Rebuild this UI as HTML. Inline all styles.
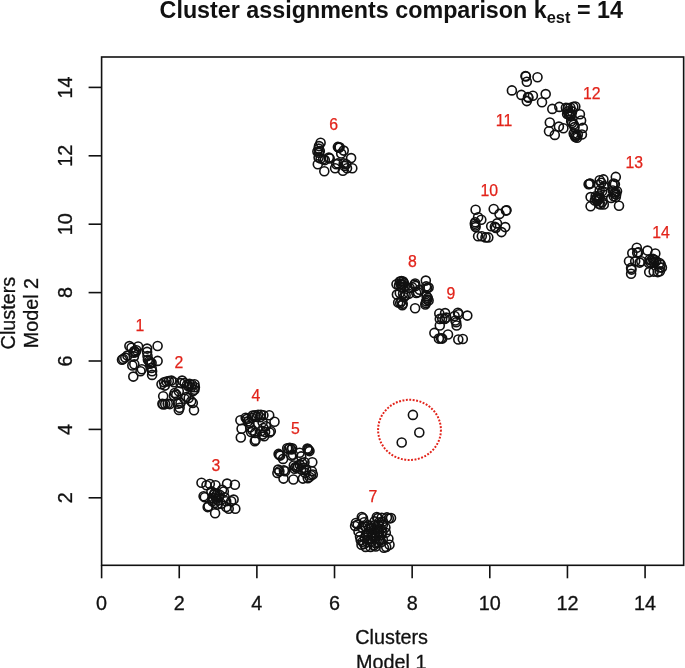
<!DOCTYPE html>
<html><head><meta charset="utf-8"><title>Cluster assignments comparison</title>
<style>
html,body{margin:0;padding:0;background:#fff;}
svg{display:block}
text{font-family:"Liberation Sans",Arial,Helvetica,sans-serif;fill:#111}
.ax{font-size:19.8px;stroke:#111;stroke-width:0.3px}
.red{font-size:15.8px;fill:#e2231a;stroke:#e2231a;stroke-width:0.25px}
.pt{fill:none;stroke:#111;stroke-width:1.6}
.ln{stroke:#111;stroke-width:1.6;fill:none}
</style></head><body>
<svg width="685" height="668" viewBox="0 0 685 668">
<rect width="685" height="668" fill="#fff"/>
<text x="159.6" y="17.5" style="font-weight:bold;font-size:23.3px">Cluster assignments comparison k<tspan dy="5" style="font-size:16.4px">est</tspan><tspan dy="-5"> = 14</tspan></text>
<rect class="ln" x="101.6" y="57.0" width="582.05" height="508.30"/>
<line class="ln" x1="101.60" y1="565.3" x2="101.60" y2="578.30"/><text class="ax" text-anchor="middle" x="101.60" y="609.8">0</text>
<line class="ln" x1="179.24" y1="565.3" x2="179.24" y2="578.30"/><text class="ax" text-anchor="middle" x="179.24" y="609.8">2</text>
<line class="ln" x1="256.88" y1="565.3" x2="256.88" y2="578.30"/><text class="ax" text-anchor="middle" x="256.88" y="609.8">4</text>
<line class="ln" x1="334.52" y1="565.3" x2="334.52" y2="578.30"/><text class="ax" text-anchor="middle" x="334.52" y="609.8">6</text>
<line class="ln" x1="412.16" y1="565.3" x2="412.16" y2="578.30"/><text class="ax" text-anchor="middle" x="412.16" y="609.8">8</text>
<line class="ln" x1="489.80" y1="565.3" x2="489.80" y2="578.30"/><text class="ax" text-anchor="middle" x="489.80" y="609.8">10</text>
<line class="ln" x1="567.44" y1="565.3" x2="567.44" y2="578.30"/><text class="ax" text-anchor="middle" x="567.44" y="609.8">12</text>
<line class="ln" x1="645.08" y1="565.3" x2="645.08" y2="578.30"/><text class="ax" text-anchor="middle" x="645.08" y="609.8">14</text>
<line class="ln" x1="101.6" y1="497.80" x2="88.60" y2="497.80"/><text class="ax" text-anchor="middle" transform="translate(72.2 497.80) rotate(-90)">2</text>
<line class="ln" x1="101.6" y1="429.40" x2="88.60" y2="429.40"/><text class="ax" text-anchor="middle" transform="translate(72.2 429.40) rotate(-90)">4</text>
<line class="ln" x1="101.6" y1="361.00" x2="88.60" y2="361.00"/><text class="ax" text-anchor="middle" transform="translate(72.2 361.00) rotate(-90)">6</text>
<line class="ln" x1="101.6" y1="292.60" x2="88.60" y2="292.60"/><text class="ax" text-anchor="middle" transform="translate(72.2 292.60) rotate(-90)">8</text>
<line class="ln" x1="101.6" y1="224.20" x2="88.60" y2="224.20"/><text class="ax" text-anchor="middle" transform="translate(72.2 224.20) rotate(-90)">10</text>
<line class="ln" x1="101.6" y1="155.80" x2="88.60" y2="155.80"/><text class="ax" text-anchor="middle" transform="translate(72.2 155.80) rotate(-90)">12</text>
<line class="ln" x1="101.6" y1="87.40" x2="88.60" y2="87.40"/><text class="ax" text-anchor="middle" transform="translate(72.2 87.40) rotate(-90)">14</text>
<text class="ax" text-anchor="middle" x="391.6" y="644.3">Clusters</text>
<text class="ax" text-anchor="middle" x="391.3" y="668.6">Model 1</text>
<text class="ax" text-anchor="middle" transform="translate(15.4 313.1) rotate(-90)">Clusters</text>
<text class="ax" text-anchor="middle" transform="translate(37.5 313.1) rotate(-90)">Model 2</text>
<text class="red" text-anchor="middle" x="139.8" y="331.1">1</text>
<text class="red" text-anchor="middle" x="179" y="367.8">2</text>
<text class="red" text-anchor="middle" x="216" y="470.8">3</text>
<text class="red" text-anchor="middle" x="256" y="401.3">4</text>
<text class="red" text-anchor="middle" x="295.5" y="434.3">5</text>
<text class="red" text-anchor="middle" x="333.6" y="130.0">6</text>
<text class="red" text-anchor="middle" x="373" y="502.3">7</text>
<text class="red" text-anchor="middle" x="412.5" y="266.6">8</text>
<text class="red" text-anchor="middle" x="451" y="299.3">9</text>
<text class="red" text-anchor="middle" x="489.2" y="195.9">10</text>
<text class="red" text-anchor="middle" x="504" y="126.0">11</text>
<text class="red" text-anchor="middle" x="591.8" y="99.3">12</text>
<text class="red" text-anchor="middle" x="634.3" y="167.7">13</text>
<text class="red" text-anchor="middle" x="661" y="238.3">14</text>
<ellipse cx="409.5" cy="429.9" rx="31.4" ry="30.1" fill="none" stroke="#e2231a" stroke-width="2" stroke-dasharray="1.9 1.54"/>
<g class="pt"><circle cx="157.6" cy="346.0" r="4.5"/><circle cx="157.6" cy="360.9" r="4.5"/><circle cx="133.3" cy="376.6" r="4.5"/><circle cx="152.1" cy="374.9" r="4.5"/><circle cx="152.1" cy="371.2" r="4.5"/><circle cx="151.6" cy="367.9" r="4.5"/><circle cx="140.5" cy="371.2" r="4.5"/><circle cx="141.8" cy="369.2" r="4.5"/><circle cx="123.2" cy="358.9" r="4.5"/><circle cx="125.3" cy="357.6" r="4.5"/><circle cx="122.0" cy="359.7" r="4.5"/><circle cx="129.4" cy="346.1" r="4.5"/><circle cx="131.5" cy="347.8" r="4.5"/><circle cx="138.1" cy="346.5" r="4.5"/><circle cx="147.1" cy="348.6" r="4.5"/><circle cx="147.1" cy="351.9" r="4.5"/><circle cx="134.3" cy="351.1" r="4.5"/><circle cx="135.6" cy="352.3" r="4.5"/><circle cx="133.5" cy="352.7" r="4.5"/><circle cx="136.4" cy="350.2" r="4.5"/><circle cx="150.4" cy="362.2" r="4.5"/><circle cx="149.2" cy="361.3" r="4.5"/><circle cx="151.6" cy="363.0" r="4.5"/><circle cx="150.0" cy="363.8" r="4.5"/><circle cx="132.3" cy="365.5" r="4.5"/><circle cx="134.3" cy="364.2" r="4.5"/><circle cx="147.5" cy="356.0" r="4.5"/><circle cx="147.9" cy="359.7" r="4.5"/><circle cx="127.4" cy="355.6" r="4.5"/><circle cx="133.9" cy="356.4" r="4.5"/></g>
<g class="pt"><circle cx="194.0" cy="410.3" r="4.5"/><circle cx="178.8" cy="409.9" r="4.5"/><circle cx="179.6" cy="407.8" r="4.5"/><circle cx="163.2" cy="404.5" r="4.5"/><circle cx="165.2" cy="404.1" r="4.5"/><circle cx="167.7" cy="403.7" r="4.5"/><circle cx="169.8" cy="404.1" r="4.5"/><circle cx="162.4" cy="403.7" r="4.5"/><circle cx="163.2" cy="396.3" r="4.5"/><circle cx="161.5" cy="384.3" r="4.5"/><circle cx="164.0" cy="382.3" r="4.5"/><circle cx="166.5" cy="381.5" r="4.5"/><circle cx="168.9" cy="381.1" r="4.5"/><circle cx="171.4" cy="380.6" r="4.5"/><circle cx="173.9" cy="382.3" r="4.5"/><circle cx="164.8" cy="385.6" r="4.5"/><circle cx="182.1" cy="380.6" r="4.5"/><circle cx="180.5" cy="383.1" r="4.5"/><circle cx="184.6" cy="383.1" r="4.5"/><circle cx="187.1" cy="384.8" r="4.5"/><circle cx="189.5" cy="383.9" r="4.5"/><circle cx="192.0" cy="384.8" r="4.5"/><circle cx="194.5" cy="384.3" r="4.5"/><circle cx="188.7" cy="386.4" r="4.5"/><circle cx="191.2" cy="387.2" r="4.5"/><circle cx="194.9" cy="387.2" r="4.5"/><circle cx="174.7" cy="393.0" r="4.5"/><circle cx="176.3" cy="394.6" r="4.5"/><circle cx="173.9" cy="395.5" r="4.5"/><circle cx="178.8" cy="391.3" r="4.5"/><circle cx="186.2" cy="397.1" r="4.5"/><circle cx="188.7" cy="397.9" r="4.5"/><circle cx="184.6" cy="398.8" r="4.5"/><circle cx="191.2" cy="401.2" r="4.5"/><circle cx="192.8" cy="402.9" r="4.5"/><circle cx="194.5" cy="389.7" r="4.5"/><circle cx="192.8" cy="391.3" r="4.5"/><circle cx="180.5" cy="402.9" r="4.5"/><circle cx="178.0" cy="403.7" r="4.5"/></g>
<g class="pt"><circle cx="201.5" cy="482.8" r="4.5"/><circle cx="206.5" cy="485.2" r="4.5"/><circle cx="209.8" cy="484.0" r="4.5"/><circle cx="215.5" cy="485.2" r="4.5"/><circle cx="227.1" cy="483.6" r="4.5"/><circle cx="234.9" cy="484.8" r="4.5"/><circle cx="204.8" cy="497.2" r="4.5"/><circle cx="203.6" cy="496.3" r="4.5"/><circle cx="215.1" cy="513.2" r="4.5"/><circle cx="208.5" cy="506.2" r="4.5"/><circle cx="207.7" cy="507.1" r="4.5"/><circle cx="233.6" cy="499.6" r="4.5"/><circle cx="231.2" cy="501.3" r="4.5"/><circle cx="235.3" cy="508.7" r="4.5"/><circle cx="228.7" cy="508.7" r="4.5"/><circle cx="226.2" cy="507.1" r="4.5"/><circle cx="213.9" cy="494.7" r="4.5"/><circle cx="215.5" cy="496.3" r="4.5"/><circle cx="217.2" cy="493.9" r="4.5"/><circle cx="213.1" cy="498.0" r="4.5"/><circle cx="216.3" cy="498.8" r="4.5"/><circle cx="218.8" cy="497.2" r="4.5"/><circle cx="214.7" cy="493.1" r="4.5"/><circle cx="218.0" cy="500.5" r="4.5"/><circle cx="212.2" cy="501.3" r="4.5"/><circle cx="219.6" cy="494.7" r="4.5"/><circle cx="222.1" cy="489.8" r="4.5"/><circle cx="223.8" cy="491.4" r="4.5"/><circle cx="224.6" cy="497.2" r="4.5"/><circle cx="226.2" cy="501.3" r="4.5"/><circle cx="217.2" cy="504.6" r="4.5"/><circle cx="221.3" cy="503.8" r="4.5"/><circle cx="211.4" cy="491.4" r="4.5"/><circle cx="214.7" cy="502.9" r="4.5"/></g>
<g class="pt"><circle cx="240.4" cy="420.2" r="4.5"/><circle cx="241.6" cy="428.8" r="4.5"/><circle cx="240.8" cy="437.5" r="4.5"/><circle cx="245.7" cy="417.7" r="4.5"/><circle cx="246.9" cy="418.9" r="4.5"/><circle cx="252.7" cy="415.6" r="4.5"/><circle cx="255.2" cy="415.2" r="4.5"/><circle cx="258.1" cy="414.8" r="4.5"/><circle cx="260.9" cy="414.8" r="4.5"/><circle cx="263.4" cy="415.2" r="4.5"/><circle cx="269.2" cy="415.2" r="4.5"/><circle cx="251.9" cy="417.7" r="4.5"/><circle cx="256.8" cy="416.9" r="4.5"/><circle cx="260.1" cy="417.3" r="4.5"/><circle cx="274.5" cy="421.8" r="4.5"/><circle cx="270.8" cy="431.3" r="4.5"/><circle cx="269.6" cy="432.5" r="4.5"/><circle cx="254.8" cy="441.2" r="4.5"/><circle cx="255.6" cy="439.9" r="4.5"/><circle cx="264.2" cy="436.2" r="4.5"/><circle cx="262.6" cy="434.6" r="4.5"/><circle cx="250.2" cy="427.2" r="4.5"/><circle cx="251.1" cy="432.1" r="4.5"/><circle cx="252.7" cy="430.5" r="4.5"/><circle cx="255.2" cy="432.9" r="4.5"/><circle cx="263.4" cy="428.0" r="4.5"/><circle cx="265.9" cy="426.3" r="4.5"/><circle cx="260.9" cy="431.3" r="4.5"/><circle cx="265.1" cy="432.1" r="4.5"/><circle cx="249.4" cy="423.1" r="4.5"/><circle cx="262.6" cy="422.2" r="4.5"/><circle cx="247.8" cy="421.4" r="4.5"/></g>
<g class="pt"><circle cx="279.4" cy="454.8" r="4.5"/><circle cx="278.6" cy="453.9" r="4.5"/><circle cx="280.2" cy="455.6" r="4.5"/><circle cx="283.1" cy="458.9" r="4.5"/><circle cx="287.2" cy="448.2" r="4.5"/><circle cx="289.7" cy="447.8" r="4.5"/><circle cx="292.2" cy="448.2" r="4.5"/><circle cx="288.5" cy="449.0" r="4.5"/><circle cx="291.3" cy="449.4" r="4.5"/><circle cx="308.2" cy="449.4" r="4.5"/><circle cx="308.6" cy="450.2" r="4.5"/><circle cx="307.4" cy="448.6" r="4.5"/><circle cx="309.5" cy="451.1" r="4.5"/><circle cx="299.6" cy="452.7" r="4.5"/><circle cx="301.2" cy="456.4" r="4.5"/><circle cx="291.3" cy="455.6" r="4.5"/><circle cx="293.0" cy="454.8" r="4.5"/><circle cx="312.3" cy="462.2" r="4.5"/><circle cx="311.9" cy="471.2" r="4.5"/><circle cx="311.1" cy="475.3" r="4.5"/><circle cx="312.8" cy="474.5" r="4.5"/><circle cx="283.5" cy="478.6" r="4.5"/><circle cx="293.4" cy="479.5" r="4.5"/><circle cx="302.9" cy="478.6" r="4.5"/><circle cx="307.8" cy="478.2" r="4.5"/><circle cx="309.5" cy="477.0" r="4.5"/><circle cx="278.2" cy="469.6" r="4.5"/><circle cx="279.4" cy="471.2" r="4.5"/><circle cx="277.4" cy="472.9" r="4.5"/><circle cx="283.9" cy="470.4" r="4.5"/><circle cx="285.2" cy="471.2" r="4.5"/><circle cx="295.5" cy="467.1" r="4.5"/><circle cx="297.1" cy="467.9" r="4.5"/><circle cx="294.6" cy="468.8" r="4.5"/><circle cx="297.9" cy="466.3" r="4.5"/><circle cx="299.6" cy="464.6" r="4.5"/><circle cx="302.1" cy="463.0" r="4.5"/><circle cx="304.5" cy="462.2" r="4.5"/><circle cx="303.7" cy="467.9" r="4.5"/><circle cx="306.2" cy="469.6" r="4.5"/><circle cx="293.8" cy="465.5" r="4.5"/><circle cx="301.2" cy="469.6" r="4.5"/><circle cx="305.3" cy="472.9" r="4.5"/></g>
<g class="pt"><circle cx="320.6" cy="142.8" r="4.5"/><circle cx="319.0" cy="146.1" r="4.5"/><circle cx="318.6" cy="148.6" r="4.5"/><circle cx="319.8" cy="151.1" r="4.5"/><circle cx="317.4" cy="151.5" r="4.5"/><circle cx="319.0" cy="152.7" r="4.5"/><circle cx="318.6" cy="157.6" r="4.5"/><circle cx="317.8" cy="164.2" r="4.5"/><circle cx="320.6" cy="158.5" r="4.5"/><circle cx="323.1" cy="159.3" r="4.5"/><circle cx="324.8" cy="160.1" r="4.5"/><circle cx="328.9" cy="157.6" r="4.5"/><circle cx="329.7" cy="158.5" r="4.5"/><circle cx="324.3" cy="171.2" r="4.5"/><circle cx="335.1" cy="168.3" r="4.5"/><circle cx="336.3" cy="164.2" r="4.5"/><circle cx="337.9" cy="163.4" r="4.5"/><circle cx="337.9" cy="146.9" r="4.5"/><circle cx="338.8" cy="147.8" r="4.5"/><circle cx="339.6" cy="147.3" r="4.5"/><circle cx="343.7" cy="150.6" r="4.5"/><circle cx="341.2" cy="153.5" r="4.5"/><circle cx="351.1" cy="158.1" r="4.5"/><circle cx="352.3" cy="168.3" r="4.5"/><circle cx="347.0" cy="168.3" r="4.5"/><circle cx="342.9" cy="170.8" r="4.5"/><circle cx="343.7" cy="163.4" r="4.5"/><circle cx="346.2" cy="164.2" r="4.5"/><circle cx="344.5" cy="165.9" r="4.5"/></g>
<g class="pt"><circle cx="361.8" cy="517.0" r="4.5"/><circle cx="363.0" cy="518.3" r="4.5"/><circle cx="355.9" cy="523.0" r="4.5"/><circle cx="355.1" cy="526.0" r="4.5"/><circle cx="357.7" cy="524.6" r="4.5"/><circle cx="358.5" cy="531.6" r="4.5"/><circle cx="360.7" cy="540.2" r="4.5"/><circle cx="362.6" cy="541.7" r="4.5"/><circle cx="364.1" cy="543.9" r="4.5"/><circle cx="365.6" cy="546.9" r="4.5"/><circle cx="361.5" cy="544.7" r="4.5"/><circle cx="364.1" cy="522.2" r="4.5"/><circle cx="365.2" cy="526.7" r="4.5"/><circle cx="362.2" cy="527.5" r="4.5"/><circle cx="366.0" cy="534.9" r="4.5"/><circle cx="364.8" cy="537.9" r="4.5"/><circle cx="360.0" cy="536.4" r="4.5"/><circle cx="370.5" cy="546.9" r="4.5"/><circle cx="373.8" cy="545.4" r="4.5"/><circle cx="375.7" cy="546.5" r="4.5"/><circle cx="383.9" cy="547.7" r="4.5"/><circle cx="386.2" cy="546.9" r="4.5"/><circle cx="389.5" cy="544.7" r="4.5"/><circle cx="388.4" cy="538.7" r="4.5"/><circle cx="391.0" cy="518.1" r="4.5"/><circle cx="386.9" cy="517.4" r="4.5"/><circle cx="388.8" cy="518.5" r="4.5"/><circle cx="376.8" cy="517.0" r="4.5"/><circle cx="377.9" cy="518.1" r="4.5"/><circle cx="385.4" cy="527.5" r="4.5"/><circle cx="385.8" cy="532.7" r="4.5"/><circle cx="381.7" cy="517.7" r="4.5"/><circle cx="368.1" cy="525.4" r="4.5"/><circle cx="369.0" cy="528.7" r="4.5"/><circle cx="368.2" cy="532.3" r="4.5"/><circle cx="367.6" cy="535.6" r="4.5"/><circle cx="368.4" cy="539.6" r="4.5"/><circle cx="367.5" cy="542.1" r="4.5"/><circle cx="370.9" cy="525.8" r="4.5"/><circle cx="372.0" cy="527.9" r="4.5"/><circle cx="372.5" cy="533.0" r="4.5"/><circle cx="371.9" cy="535.8" r="4.5"/><circle cx="371.0" cy="538.2" r="4.5"/><circle cx="371.7" cy="541.7" r="4.5"/><circle cx="374.5" cy="521.4" r="4.5"/><circle cx="374.3" cy="525.2" r="4.5"/><circle cx="375.0" cy="529.3" r="4.5"/><circle cx="375.1" cy="532.4" r="4.5"/><circle cx="375.1" cy="535.9" r="4.5"/><circle cx="375.0" cy="538.7" r="4.5"/><circle cx="376.0" cy="543.4" r="4.5"/><circle cx="379.2" cy="522.2" r="4.5"/><circle cx="378.2" cy="524.8" r="4.5"/><circle cx="378.2" cy="528.0" r="4.5"/><circle cx="379.0" cy="532.0" r="4.5"/><circle cx="379.2" cy="535.4" r="4.5"/><circle cx="379.4" cy="539.7" r="4.5"/><circle cx="377.6" cy="542.0" r="4.5"/><circle cx="382.7" cy="521.8" r="4.5"/><circle cx="382.8" cy="525.1" r="4.5"/><circle cx="381.2" cy="529.0" r="4.5"/><circle cx="382.5" cy="531.8" r="4.5"/><circle cx="381.2" cy="535.3" r="4.5"/><circle cx="382.8" cy="539.5" r="4.5"/><circle cx="381.3" cy="542.0" r="4.5"/></g>
<g class="pt"><circle cx="425.8" cy="280.6" r="4.5"/><circle cx="428.6" cy="287.6" r="4.5"/><circle cx="427.0" cy="288.1" r="4.5"/><circle cx="426.2" cy="286.4" r="4.5"/><circle cx="427.0" cy="299.6" r="4.5"/><circle cx="426.2" cy="301.2" r="4.5"/><circle cx="427.8" cy="297.9" r="4.5"/><circle cx="425.8" cy="302.9" r="4.5"/><circle cx="428.6" cy="300.4" r="4.5"/><circle cx="426.6" cy="296.3" r="4.5"/><circle cx="425.3" cy="304.5" r="4.5"/><circle cx="415.1" cy="308.2" r="4.5"/><circle cx="414.6" cy="284.8" r="4.5"/><circle cx="415.1" cy="283.5" r="4.5"/><circle cx="415.5" cy="286.0" r="4.5"/><circle cx="412.2" cy="287.2" r="4.5"/><circle cx="409.7" cy="288.1" r="4.5"/><circle cx="417.9" cy="292.2" r="4.5"/><circle cx="416.3" cy="293.0" r="4.5"/><circle cx="419.6" cy="289.7" r="4.5"/><circle cx="399.8" cy="281.5" r="4.5"/><circle cx="401.5" cy="281.1" r="4.5"/><circle cx="403.1" cy="281.5" r="4.5"/><circle cx="400.6" cy="283.9" r="4.5"/><circle cx="402.3" cy="284.8" r="4.5"/><circle cx="399.0" cy="285.6" r="4.5"/><circle cx="403.9" cy="283.1" r="4.5"/><circle cx="396.5" cy="284.3" r="4.5"/><circle cx="401.5" cy="287.2" r="4.5"/><circle cx="404.8" cy="286.4" r="4.5"/><circle cx="396.9" cy="294.6" r="4.5"/><circle cx="399.8" cy="293.0" r="4.5"/><circle cx="403.1" cy="293.8" r="4.5"/><circle cx="405.6" cy="295.5" r="4.5"/><circle cx="408.9" cy="293.8" r="4.5"/><circle cx="403.9" cy="297.1" r="4.5"/><circle cx="398.2" cy="302.5" r="4.5"/><circle cx="401.5" cy="301.2" r="4.5"/><circle cx="402.7" cy="303.7" r="4.5"/><circle cx="402.3" cy="305.3" r="4.5"/><circle cx="400.2" cy="302.9" r="4.5"/></g>
<g class="pt"><circle cx="439.3" cy="313.5" r="4.5"/><circle cx="445.1" cy="313.1" r="4.5"/><circle cx="439.8" cy="318.9" r="4.5"/><circle cx="442.2" cy="318.5" r="4.5"/><circle cx="444.7" cy="318.9" r="4.5"/><circle cx="446.3" cy="317.6" r="4.5"/><circle cx="439.8" cy="325.5" r="4.5"/><circle cx="457.9" cy="312.7" r="4.5"/><circle cx="458.7" cy="314.3" r="4.5"/><circle cx="454.6" cy="316.0" r="4.5"/><circle cx="467.3" cy="315.6" r="4.5"/><circle cx="456.2" cy="322.2" r="4.5"/><circle cx="456.6" cy="325.5" r="4.5"/><circle cx="455.4" cy="320.5" r="4.5"/><circle cx="434.4" cy="332.9" r="4.5"/><circle cx="438.9" cy="338.6" r="4.5"/><circle cx="441.0" cy="338.2" r="4.5"/><circle cx="442.2" cy="338.6" r="4.5"/><circle cx="448.0" cy="334.5" r="4.5"/><circle cx="458.3" cy="339.5" r="4.5"/><circle cx="462.8" cy="339.0" r="4.5"/></g>
<g class="pt"><circle cx="475.6" cy="209.8" r="4.5"/><circle cx="478.1" cy="217.2" r="4.5"/><circle cx="481.3" cy="219.7" r="4.5"/><circle cx="475.2" cy="222.2" r="4.5"/><circle cx="474.8" cy="223.8" r="4.5"/><circle cx="475.2" cy="225.5" r="4.5"/><circle cx="475.6" cy="227.1" r="4.5"/><circle cx="478.1" cy="236.2" r="4.5"/><circle cx="481.8" cy="236.2" r="4.5"/><circle cx="485.5" cy="237.4" r="4.5"/><circle cx="488.3" cy="237.4" r="4.5"/><circle cx="493.7" cy="209.0" r="4.5"/><circle cx="499.5" cy="213.9" r="4.5"/><circle cx="506.5" cy="210.2" r="4.5"/><circle cx="506.0" cy="210.6" r="4.5"/><circle cx="491.2" cy="226.3" r="4.5"/><circle cx="494.9" cy="226.7" r="4.5"/><circle cx="497.0" cy="223.4" r="4.5"/><circle cx="495.8" cy="227.9" r="4.5"/><circle cx="505.2" cy="227.1" r="4.5"/><circle cx="501.5" cy="232.1" r="4.5"/></g>
<g class="pt"><circle cx="525.5" cy="76.0" r="4.5"/><circle cx="525.9" cy="76.4" r="4.5"/><circle cx="526.8" cy="81.8" r="4.5"/><circle cx="537.5" cy="77.2" r="4.5"/><circle cx="511.9" cy="90.4" r="4.5"/><circle cx="521.4" cy="94.9" r="4.5"/><circle cx="528.0" cy="97.0" r="4.5"/><circle cx="528.4" cy="97.8" r="4.5"/><circle cx="532.9" cy="95.8" r="4.5"/><circle cx="526.8" cy="101.1" r="4.5"/><circle cx="545.7" cy="94.1" r="4.5"/><circle cx="542.0" cy="102.3" r="4.5"/><circle cx="552.3" cy="108.9" r="4.5"/></g>
<g class="pt"><circle cx="559.3" cy="106.9" r="4.5"/><circle cx="565.9" cy="107.7" r="4.5"/><circle cx="567.9" cy="108.1" r="4.5"/><circle cx="570.4" cy="107.7" r="4.5"/><circle cx="573.3" cy="106.9" r="4.5"/><circle cx="575.3" cy="106.5" r="4.5"/><circle cx="567.9" cy="111.4" r="4.5"/><circle cx="569.6" cy="113.1" r="4.5"/><circle cx="571.2" cy="114.7" r="4.5"/><circle cx="568.8" cy="114.7" r="4.5"/><circle cx="572.1" cy="111.4" r="4.5"/><circle cx="567.1" cy="113.9" r="4.5"/><circle cx="570.4" cy="116.3" r="4.5"/><circle cx="579.9" cy="114.3" r="4.5"/><circle cx="581.1" cy="120.5" r="4.5"/><circle cx="582.8" cy="127.9" r="4.5"/><circle cx="581.9" cy="134.5" r="4.5"/><circle cx="572.1" cy="122.9" r="4.5"/><circle cx="573.7" cy="124.6" r="4.5"/><circle cx="571.2" cy="121.3" r="4.5"/><circle cx="574.5" cy="127.1" r="4.5"/><circle cx="574.5" cy="135.3" r="4.5"/><circle cx="575.3" cy="136.9" r="4.5"/><circle cx="576.2" cy="135.7" r="4.5"/><circle cx="573.7" cy="133.6" r="4.5"/><circle cx="577.0" cy="137.8" r="4.5"/><circle cx="577.8" cy="134.5" r="4.5"/><circle cx="549.8" cy="122.5" r="4.5"/><circle cx="549.0" cy="131.2" r="4.5"/><circle cx="554.8" cy="134.9" r="4.5"/><circle cx="558.9" cy="126.6" r="4.5"/><circle cx="563.4" cy="128.3" r="4.5"/></g>
<g class="pt"><circle cx="589.4" cy="183.9" r="4.5"/><circle cx="588.6" cy="184.3" r="4.5"/><circle cx="590.2" cy="183.5" r="4.5"/><circle cx="599.7" cy="180.2" r="4.5"/><circle cx="603.4" cy="179.4" r="4.5"/><circle cx="601.3" cy="182.7" r="4.5"/><circle cx="598.9" cy="184.8" r="4.5"/><circle cx="603.8" cy="186.4" r="4.5"/><circle cx="615.8" cy="176.9" r="4.5"/><circle cx="613.7" cy="183.5" r="4.5"/><circle cx="614.9" cy="184.3" r="4.5"/><circle cx="612.5" cy="184.8" r="4.5"/><circle cx="615.3" cy="192.2" r="4.5"/><circle cx="614.5" cy="193.8" r="4.5"/><circle cx="616.2" cy="194.6" r="4.5"/><circle cx="613.7" cy="196.3" r="4.5"/><circle cx="617.0" cy="191.3" r="4.5"/><circle cx="615.8" cy="197.1" r="4.5"/><circle cx="612.9" cy="190.5" r="4.5"/><circle cx="611.2" cy="197.9" r="4.5"/><circle cx="619.0" cy="205.8" r="4.5"/><circle cx="590.6" cy="197.1" r="4.5"/><circle cx="590.6" cy="206.2" r="4.5"/><circle cx="597.2" cy="197.1" r="4.5"/><circle cx="596.4" cy="198.8" r="4.5"/><circle cx="598.5" cy="199.6" r="4.5"/><circle cx="595.6" cy="196.3" r="4.5"/><circle cx="598.9" cy="195.5" r="4.5"/><circle cx="597.2" cy="201.2" r="4.5"/><circle cx="599.7" cy="197.9" r="4.5"/><circle cx="594.8" cy="200.4" r="4.5"/><circle cx="598.9" cy="203.7" r="4.5"/><circle cx="600.5" cy="204.5" r="4.5"/><circle cx="603.8" cy="204.5" r="4.5"/><circle cx="602.2" cy="202.1" r="4.5"/><circle cx="602.2" cy="191.3" r="4.5"/><circle cx="605.5" cy="192.2" r="4.5"/><circle cx="599.7" cy="190.5" r="4.5"/></g>
<g class="pt"><circle cx="636.8" cy="247.8" r="4.5"/><circle cx="632.3" cy="253.1" r="4.5"/><circle cx="637.2" cy="252.7" r="4.5"/><circle cx="638.5" cy="252.3" r="4.5"/><circle cx="629.0" cy="261.3" r="4.5"/><circle cx="635.2" cy="261.3" r="4.5"/><circle cx="639.7" cy="262.6" r="4.5"/><circle cx="641.3" cy="261.3" r="4.5"/><circle cx="631.1" cy="267.9" r="4.5"/><circle cx="631.5" cy="269.6" r="4.5"/><circle cx="631.1" cy="273.7" r="4.5"/><circle cx="647.5" cy="250.6" r="4.5"/><circle cx="655.3" cy="253.5" r="4.5"/><circle cx="649.6" cy="259.7" r="4.5"/><circle cx="651.2" cy="260.5" r="4.5"/><circle cx="652.9" cy="258.9" r="4.5"/><circle cx="654.5" cy="259.7" r="4.5"/><circle cx="650.4" cy="262.2" r="4.5"/><circle cx="653.7" cy="262.2" r="4.5"/><circle cx="648.8" cy="263.0" r="4.5"/><circle cx="656.2" cy="261.3" r="4.5"/><circle cx="659.5" cy="263.0" r="4.5"/><circle cx="660.7" cy="264.6" r="4.5"/><circle cx="661.9" cy="267.5" r="4.5"/><circle cx="659.9" cy="267.5" r="4.5"/><circle cx="649.2" cy="272.1" r="4.5"/><circle cx="653.7" cy="271.6" r="4.5"/><circle cx="657.8" cy="272.1" r="4.5"/><circle cx="659.9" cy="271.2" r="4.5"/></g>
<g class="pt"><circle cx="412.9" cy="414.9" r="4.5"/><circle cx="419.3" cy="432.5" r="4.5"/><circle cx="401.7" cy="442.5" r="4.5"/></g>
</svg>
</body></html>
